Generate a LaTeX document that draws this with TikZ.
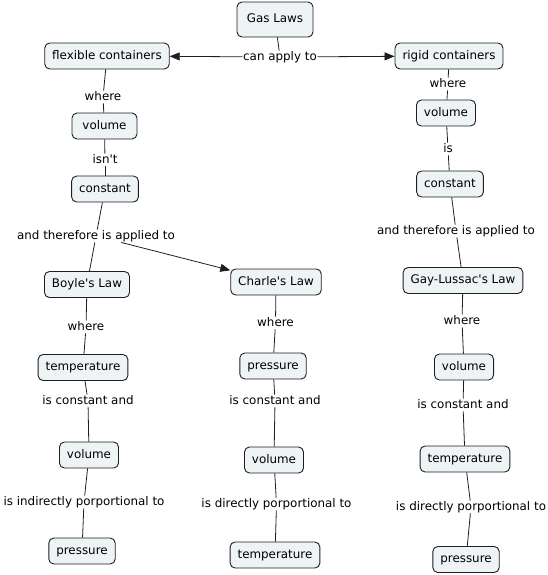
\documentclass[tikz,border=0pt]{standalone}
\usepackage{fontspec}
\setmainfont{DejaVu Sans}
\usetikzlibrary{arrows.meta}
\definecolor{cfill}{RGB}{238,243,245}
\definecolor{cline}{RGB}{30,30,30}
\begin{document}
\begin{tikzpicture}[x=1pt,y=-1pt,
  concept/.style={draw=cline, fill=cfill, rounded corners=5pt, line width=0.9pt,
    inner xsep=7.5pt, inner ysep=0pt, minimum height=26pt, text height=9pt, text depth=2.5pt,
    font=\fontsize{11.9}{14}\selectfont},
  lab/.style={inner sep=0.5pt, text height=9pt, text depth=2.5pt, font=\fontsize{11.9}{14}\selectfont},
  link/.style={draw=cline, line width=0.8pt},
  arr/.style={link, -{Triangle[length=10pt,width=8pt]}}]
\useasboundingbox (0,0) rectangle (547,575);
% concepts
\node[concept, minimum width=76pt, minimum height=35pt] (gas) at (275,19.5) {Gas Laws};
\node[concept] (flex) at (107,56) {flexible containers};
\node[concept] (rigid) at (449,56) {rigid containers};
\node[concept, minimum width=65pt] (vol1) at (104.5,126) {volume};
\node[concept] (con1) at (105,189) {constant};
\node[concept] (boyle) at (87,284.5) {Boyle\textquotesingle s Law};
\node[concept] (charle) at (276,282) {Charle\textquotesingle s Law};
\node[concept] (temp1) at (83,367.5) {temperature};
\node[concept] (vol2) at (89,455) {volume};
\node[concept] (pres1) at (82,551) {pressure};
\node[concept] (pres2) at (273,366) {pressure};
\node[concept] (vol3) at (274,460) {volume};
\node[concept] (temp2) at (275,555) {temperature};
\node[concept] (vol4) at (446,113) {volume};
\node[concept] (con2) at (450,184) {constant};
\node[concept] (gay) at (463,280.5) {Gay-Lussac\textquotesingle s Law};
\node[concept] (vol5) at (464,367) {volume};
\node[concept] (temp3) at (465,459) {temperature};
\node[concept] (pres3) at (466,559.5) {pressure};
% labels
\node[lab] (cat) at (280,57) {can apply to};
\node[lab] (w1) at (103,97) {where};
\node[lab] (isnt) at (105,160) {isn\textquotesingle t};
\node[lab] (atl) at (96,236) {and therefore is applied to};
\node[lab] (w2) at (86,327) {where};
\node[lab] (ica1) at (88,401) {is constant and};
\node[lab] (iip) at (84,502) {is indirectly porportional to};
\node[lab] (w3) at (275.5,323) {where};
\node[lab] (ica2) at (275,401) {is constant and};
\node[lab] (idp1) at (276.5,504) {is directly porportional to};
\node[lab] (w4) at (448,84) {where};
\node[lab] (is) at (448,149) {is};
\node[lab] (atr) at (456,231) {and therefore is applied to};
\node[lab] (w5) at (462,321) {where};
\node[lab] (ica3) at (463,405) {is constant and};
\node[lab] (idp2) at (471,507) {is directly porportional to};
% links
\draw[link] (gas) -- (cat);
\draw[arr] (cat) -- (flex);
\draw[arr] (cat) -- (rigid);
\draw[link] (flex) -- (w1);
\draw[link] (w1) -- (vol1);
\draw[link] (vol1) -- (isnt);
\draw[link] (isnt) -- (con1);
\draw[link] (con1) -- (atl);
\draw[link] (atl) -- (boyle);
\draw[arr] (atl) -- (charle);
\draw[link] (boyle) -- (w2);
\draw[link] (w2) -- (temp1);
\draw[link] (temp1) -- (ica1);
\draw[link] (ica1) -- (vol2);
\draw[link] (vol2) -- (iip);
\draw[link] (iip) -- (pres1);
\draw[link] (charle) -- (w3);
\draw[link] (w3) -- (pres2);
\draw[link] (pres2) -- (ica2);
\draw[link] (ica2) -- (vol3);
\draw[link] (vol3) -- (idp1);
\draw[link] (idp1) -- (temp2);
\draw[link] (rigid) -- (w4);
\draw[link] (w4) -- (vol4);
\draw[link] (vol4) -- (is);
\draw[link] (is) -- (con2);
\draw[link] (con2) -- (atr);
\draw[link] (atr) -- (gay);
\draw[link] (gay) -- (w5);
\draw[link] (w5) -- (vol5);
\draw[link] (vol5) -- (ica3);
\draw[link] (ica3) -- (temp3);
\draw[link] (temp3) -- (idp2);
\draw[link] (idp2) -- (pres3);
\end{tikzpicture}
\end{document}
